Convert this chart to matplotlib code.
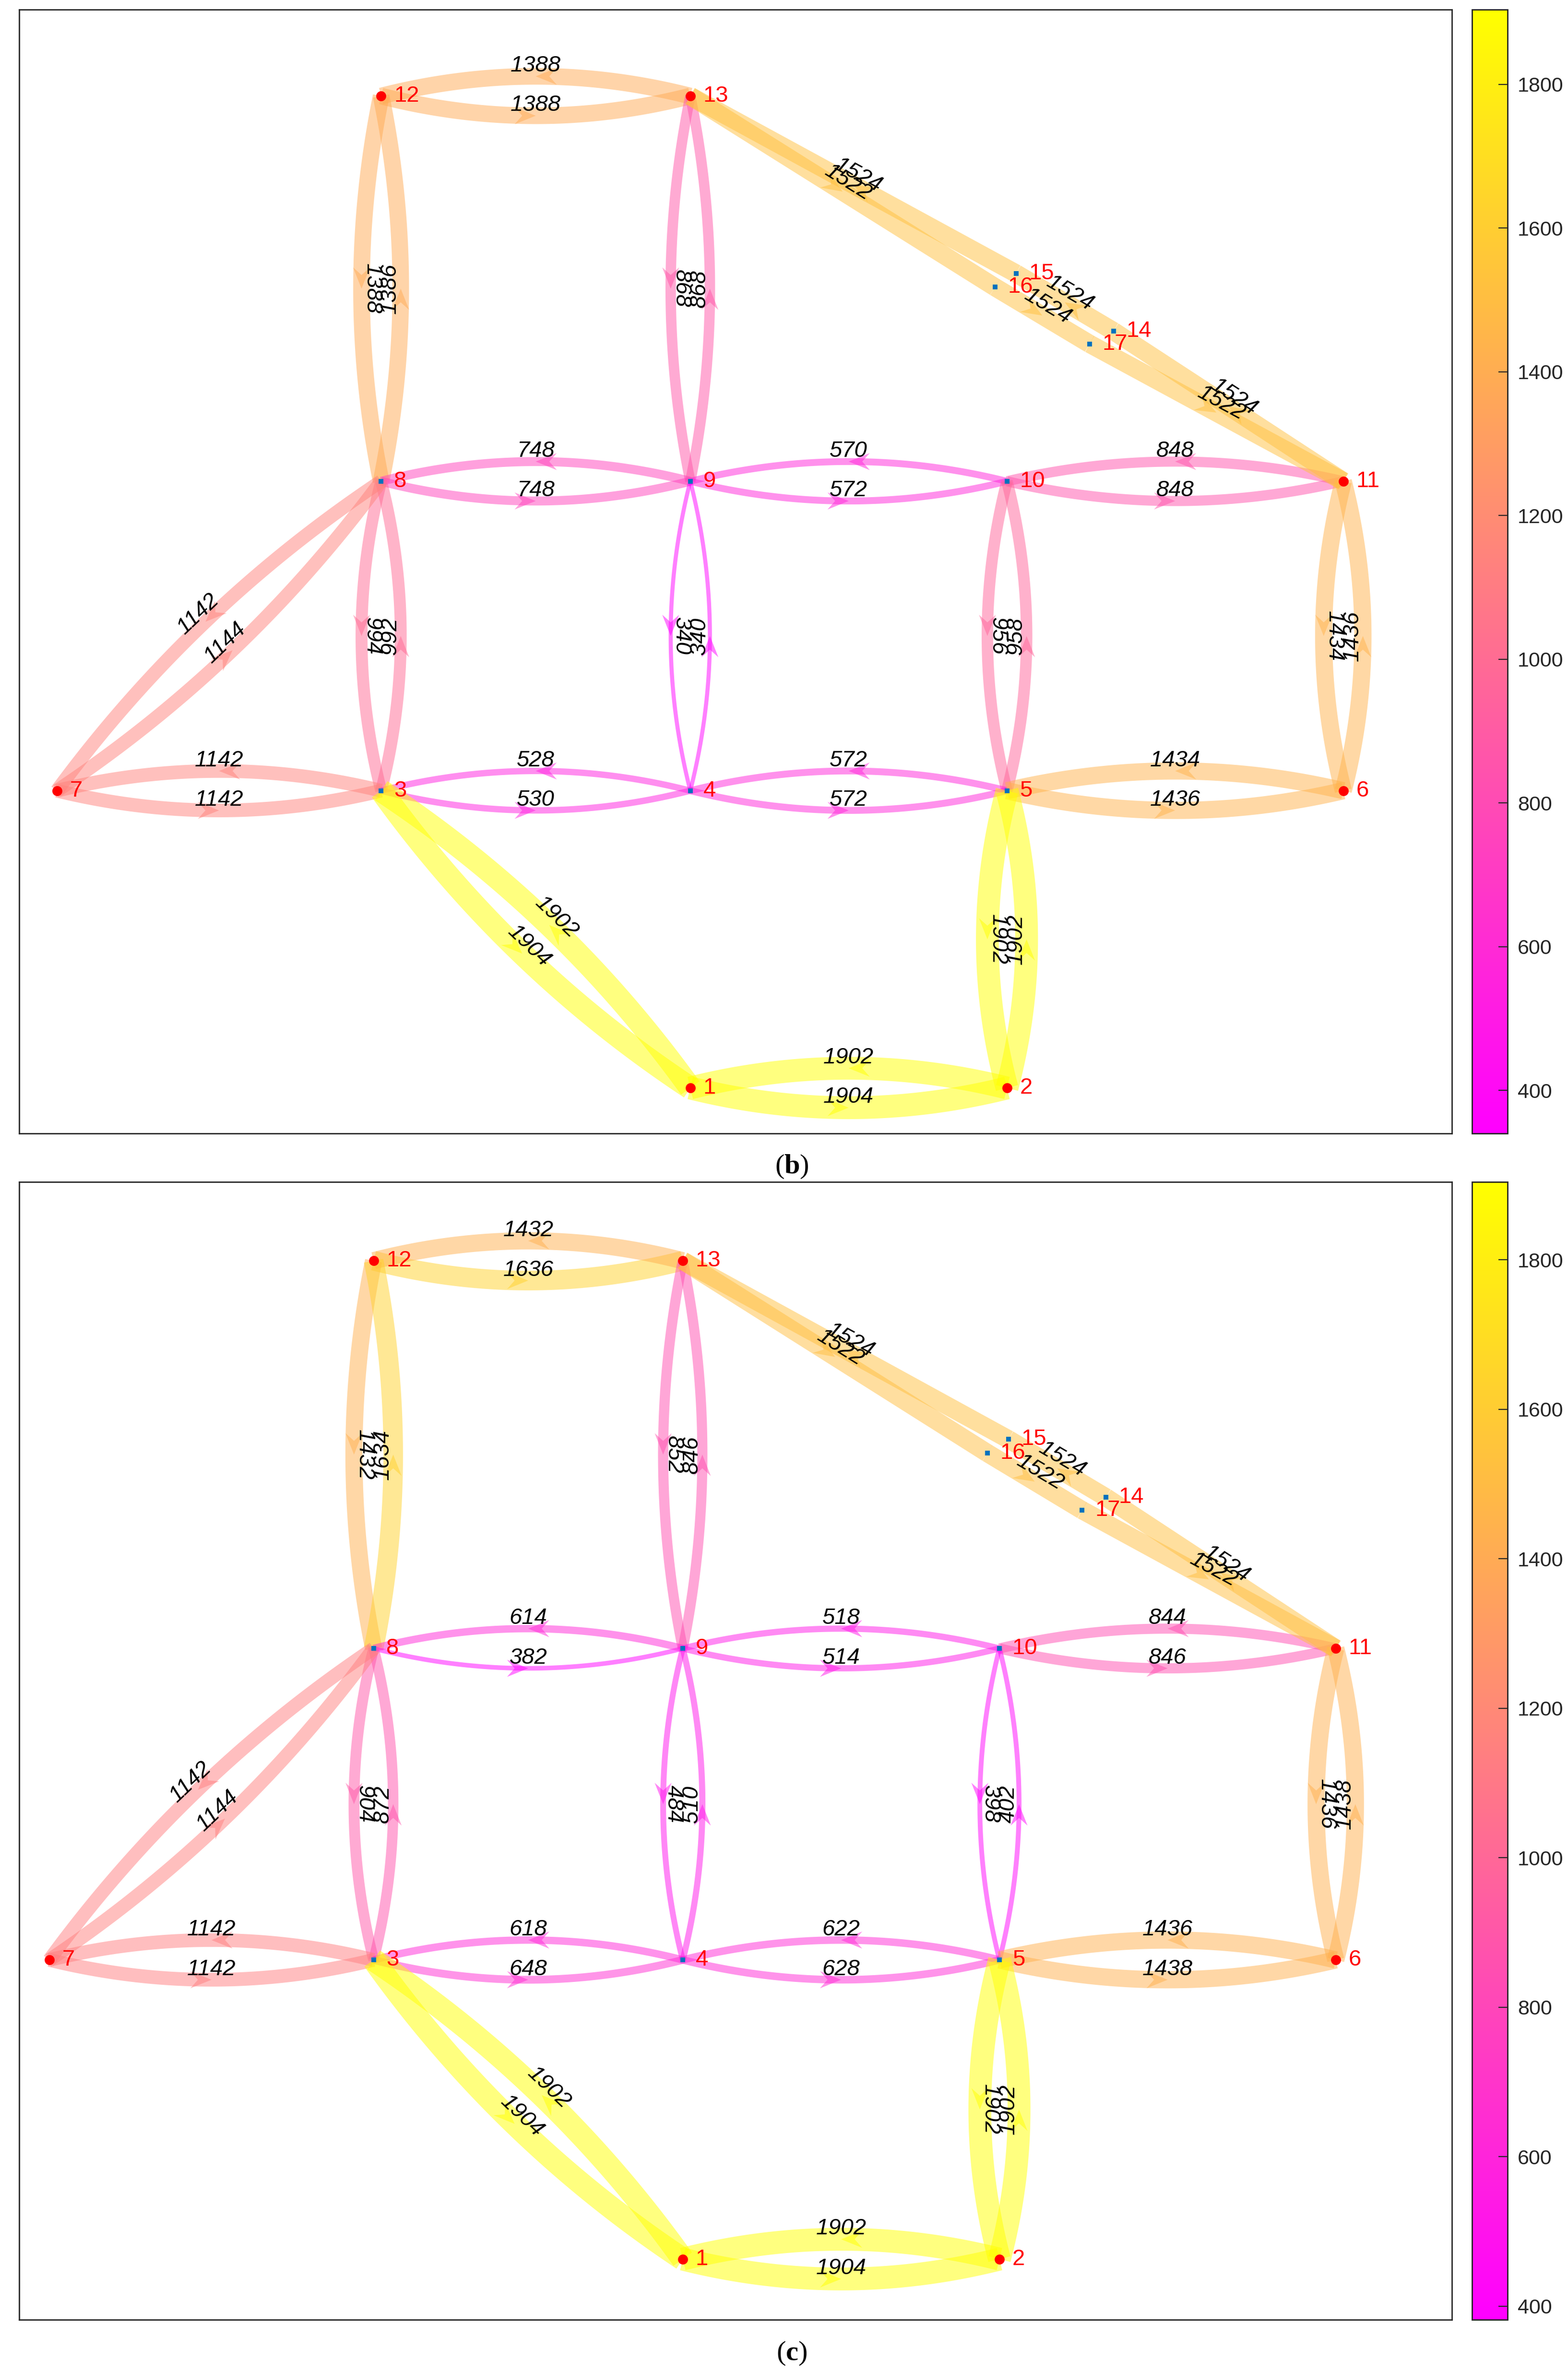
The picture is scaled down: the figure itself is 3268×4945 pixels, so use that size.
import numpy as np
import matplotlib
matplotlib.use('Agg')
import matplotlib.pyplot as plt
from matplotlib import colors, cm

plt.rcParams['mathtext.fontset'] = 'custom'
plt.rcParams['mathtext.rm'] = 'Liberation Serif'
plt.rcParams['mathtext.bf'] = 'Liberation Serif:bold'

# node layout (graph coordinates), nodes 1..17
node_x = [420, 630, 215, 420, 630, 853, 0, 215, 420, 630, 853, 215, 420, 700.6, 636, 622, 684.8]
node_y = [0, 0, 196, 196, 196, 196, 196, 400, 400, 400, 400, 654, 654, 499, 537, 528, 490.6]
od_nodes = [1, 2, 6, 7, 11, 12, 13]

# directed edges (same list for both panels)
edge_src = [12, 13, 12, 8, 13, 9, 8, 9, 9, 10, 10, 11, 8, 3, 9, 4, 10, 5, 11, 6,
            7, 8, 7, 3, 3, 4, 4, 5, 5, 6, 3, 1, 1, 2, 5, 2, 13, 16, 17, 11, 14, 15]
edge_dst = [13, 12, 8, 12, 9, 13, 9, 8, 10, 9, 11, 10, 3, 8, 4, 9, 5, 10, 6, 11,
            8, 7, 3, 7, 4, 3, 5, 4, 6, 5, 1, 3, 2, 1, 2, 5, 16, 17, 11, 14, 15, 13]

flow_b = [1388, 1388, 1388, 1386, 868, 868, 748, 748, 572, 570, 848, 848, 994, 992,
          340, 340, 956, 958, 1434, 1436, 1144, 1142, 1142, 1142, 530, 528, 572, 572,
          1436, 1434, 1904, 1902, 1904, 1902, 1902, 1902, 1522, 1524, 1522, 1524, 1524, 1524]
flow_c = [1636, 1432, 1432, 1634, 852, 846, 382, 614, 514, 518, 846, 844, 904, 872,
          484, 510, 398, 402, 1436, 1438, 1144, 1142, 1142, 1142, 648, 618, 628, 622,
          1438, 1436, 1904, 1902, 1904, 1902, 1902, 1902, 1522, 1522, 1522, 1524, 1524, 1524]

cbar_ticks = [400, 600, 800, 1000, 1200, 1400, 1600, 1800]

W, H = 3268, 4945
fig = plt.figure(figsize=(W / 100, H / 100), dpi=100)

BULGE = 13.0
AR_LEN, AR_W, AR_NOTCH = 14.0, 5.6, 9.0
dark = '#262626'


def draw_panel(ax_rect, cax_rect, flows, xlim, ylim):
    ax = fig.add_axes(ax_rect)
    cax = fig.add_axes(cax_rect)
    vmin, vmax = min(flows), max(flows)
    norm = colors.Normalize(vmin=vmin, vmax=vmax)
    cmap = plt.get_cmap('spring')
    pairs = set(zip(edge_src, edge_dst))

    for s, t, v in zip(edge_src, edge_dst, flows):
        p0 = np.array([node_x[s - 1], node_y[s - 1]], dtype=float)
        p2 = np.array([node_x[t - 1], node_y[t - 1]], dtype=float)
        d = p2 - p0
        u = d / np.hypot(*d)
        n = np.array([u[1], -u[0]])  # right hand side of travel
        col = cmap(norm(v))
        lw = v * 0.018
        if (t, s) in pairs:
            p1 = (p0 + p2) / 2 + 2 * BULGE * n
            tt = np.linspace(0, 1, 80)[:, None]
            curve = (1 - tt) ** 2 * p0 + 2 * (1 - tt) * tt * p1 + tt ** 2 * p2
            mid = (p0 + p2) / 2 + BULGE * n
        else:
            curve = np.vstack([p0, p2])
            mid = (p0 + p2) / 2
        ax.plot(curve[:, 0], curve[:, 1], color=col, lw=lw, alpha=0.5,
                solid_capstyle='butt', zorder=1)
        # arrow head at the middle of the edge
        back = mid - AR_LEN * u
        pts = np.array([mid, back + AR_W * n, mid - AR_NOTCH * u, back - AR_W * n])
        ax.fill(pts[:, 0], pts[:, 1], color=col, alpha=0.5, lw=0, zorder=2)
        # label
        ang = np.degrees(np.arctan2(d[1], d[0]))
        if ang > 90:
            ang -= 180
        elif ang < -90:
            ang += 180
        ax.text(mid[0], mid[1], str(v), rotation=ang, rotation_mode='anchor',
                ha='center', va='bottom', fontsize=34, style='italic',
                family='Liberation Sans', color='black', zorder=5)

    for i, (x, y) in enumerate(zip(node_x, node_y)):
        nid = i + 1
        if nid in od_nodes:
            ax.plot(x, y, 'o', color='red', ms=15, mew=0, zorder=3)
        else:
            ax.plot(x, y, 's', color='#0072BD', ms=6.5, mew=0, zorder=3)
        ax.text(x + 8.5, y, str(nid), ha='left', va='center', fontsize=34,
                family='Liberation Sans', color='red', zorder=4)

    ax.set_xlim(*xlim)
    ax.set_ylim(*ylim)
    ax.set_xticks([])
    ax.set_yticks([])
    for sp in ax.spines.values():
        sp.set_color(dark)
        sp.set_linewidth(2)

    sm = cm.ScalarMappable(norm=norm, cmap=cmap)
    cb = fig.colorbar(sm, cax=cax, ticks=cbar_ticks)
    cb.outline.set_edgecolor(dark)
    cb.outline.set_linewidth(2)
    cax.tick_params(direction='in', length=14, width=1.6, color=dark,
                    labelsize=31, labelcolor=dark, pad=15)
    for lab in cax.get_yticklabels():
        lab.set_family('Liberation Sans')


draw_panel([0.01224, 0.52235, 0.9137, 0.47361], [0.9388, 0.52235, 0.02264, 0.47361],
           flow_b, (-25, 925), (-30, 711))
draw_panel([0.01224, 0.02245, 0.9137, 0.47947], [0.9388, 0.02245, 0.02264, 0.47947],
           flow_c, (-20, 930), (-39.7, 705.6))

fig.text(0.505, 0.5084, r'($\mathbf{b}$)', ha='center', va='center', fontsize=42,
         family='Liberation Serif')
fig.text(0.505, 0.0083, r'($\mathbf{c}$)', ha='center', va='center', fontsize=42,
         family='Liberation Serif')

fig.savefig('out.png', dpi=100)
